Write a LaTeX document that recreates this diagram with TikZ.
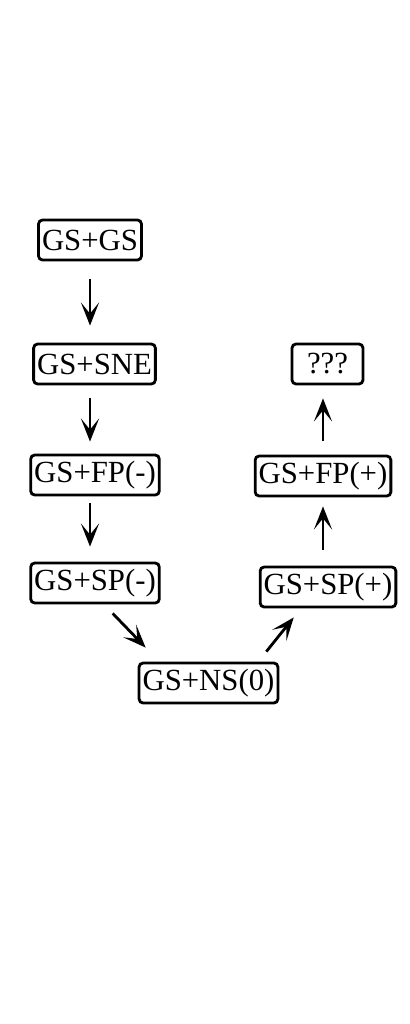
\documentclass[tikz,border=0pt]{standalone}
\usepackage{fontspec}
\setmainfont{Liberation Serif}
\usepackage{tikz}
\usetikzlibrary{
        arrows,
        positioning,
        arrows.meta
    }

\begin{document}
\begin{tikzpicture}
[statebox/.style={draw=black, line width=1.6pt, rounded corners=0.08cm, minimum height=0.8cm, inner xsep=0.07cm, text centered, font=\fontsize{17.5}{20}\selectfont},
arrow/.style={line width=1.6pt, -{Stealth[length=0.46cm, width=0.36cm, inset=0.22cm]}},]
    \useasboundingbox (0,0) rectangle (8.2,-20.48);
    \node (gsgs) [statebox] at (1.80,-4.80) {GS+GS};
    \node (sne) [statebox] at (1.89,-7.28) {GS+SNE};
    \node (fpm) [statebox] at (1.90,-9.50) {GS+FP(-)};
    \node (spm) [statebox] at (1.90,-11.66) {GS+SP(-)};
    \node (ns) [statebox] at (4.17,-13.66) {GS+NS(0)};
    \node (spp) [statebox] at (6.56,-11.74) {GS+SP(+)};
    \node (fpp) [statebox] at (6.46,-9.52) {GS+FP(+)};
    \node (qqq) [statebox, minimum width=1.42cm] at (6.55,-7.28) {???};
    % left column, going down
    \draw[arrow, shorten <=0.36cm, shorten >=0.34cm] (gsgs.south) -- (gsgs.south |- sne.north);
    \draw[arrow, shorten <=0.26cm, shorten >=0.24cm] (sne.south -| gsgs.south) -- (gsgs.south |- fpm.north);
    \draw[arrow, shorten <=0.14cm, shorten >=0.30cm] (fpm.south -| gsgs.south) -- (gsgs.south |- spm.north);
    % the dip
    \draw[arrow] ([shift={(-0.96,-0.18)}]spm.south east) -- ([shift={(0.16,0.28)}]ns.north west);
    \draw[arrow] ([shift={(-0.26,0.20)}]ns.north east) -- ([shift={(0.70,-0.18)}]spp.south west);
    % right column, going up
    \draw[arrow, shorten <=0.32cm, shorten >=0.18cm] (spp.north -| fpp.south) -- (fpp.south);
    \draw[arrow, shorten <=0.28cm, shorten >=0.26cm] (fpp.north) -- (fpp.north |- qqq.south);
\end{tikzpicture}
\end{document}
